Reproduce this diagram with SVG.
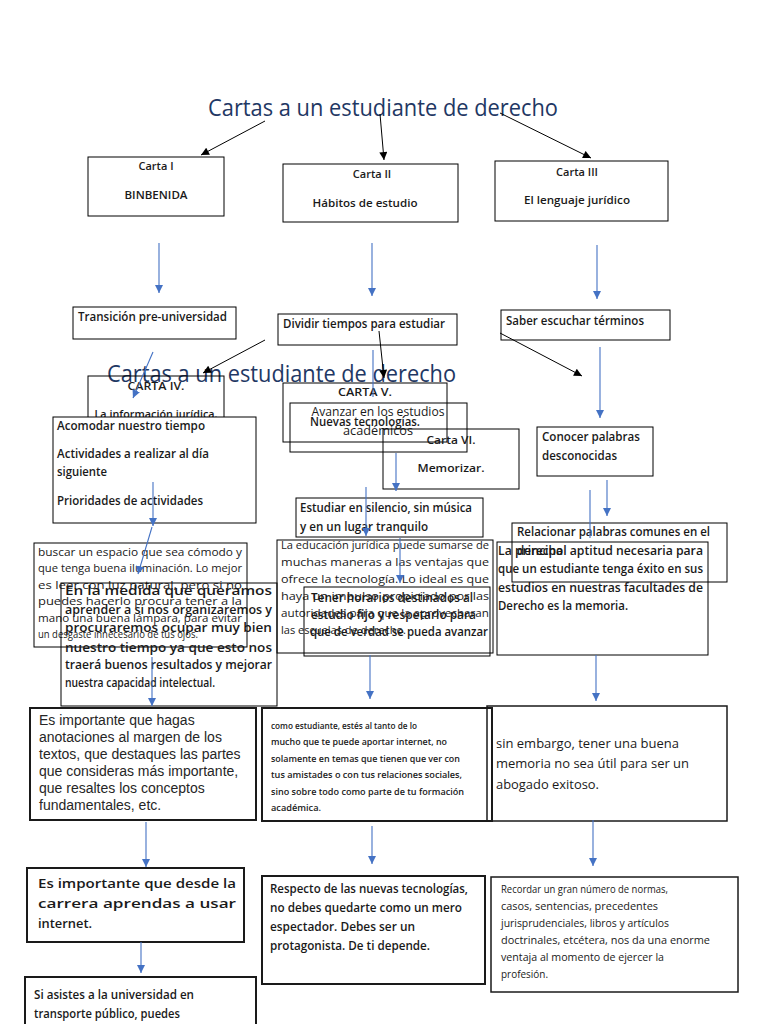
<svg xmlns="http://www.w3.org/2000/svg" width="768" height="1024" viewBox="0 0 768 1024">
<style>
.t{font-family:"Open Sans","Liberation Sans",sans-serif;fill:#1a1a1a}
.b{font-weight:600}
.m{text-anchor:middle}
.ttl{font-family:"Open Sans","Liberation Sans",sans-serif;font-size:23px;fill:#1f3864}
.box{fill:none;stroke:#000;stroke-width:1}
.boxw{fill:#fff;stroke:#000;stroke-width:1}
.box2{fill:none;stroke:#1a1a1a;stroke-width:2}
.box15{fill:none;stroke:#1a1a1a;stroke-width:1.5}
.blue{stroke:#4472c4;stroke-width:1.1;fill:none}
.blk{stroke:#000;stroke-width:1;fill:none}
.ar{font-family:"Liberation Sans",Arial,sans-serif;font-size:14px;fill:#262626}
</style>
<defs>
<marker id="ab" viewBox="0 0 10 10" refX="10" refY="5" markerWidth="9" markerHeight="8" markerUnits="userSpaceOnUse" orient="auto"><path d="M0,0 L10,5 L0,10 z" fill="#000"/></marker>
<marker id="au" viewBox="0 0 10 10" refX="10" refY="5" markerWidth="8" markerHeight="8" markerUnits="userSpaceOnUse" orient="auto"><path d="M0,0 L10,5 L0,10 z" fill="#4472c4"/></marker>
</defs>

<g id="title1"><text class="ttl" x="208" y="116" textLength="350" lengthAdjust="spacingAndGlyphs">Cartas a un estudiante de derecho</text></g>

<g id="carta1"><rect class="box" x="88" y="157" width="136" height="59"/>
<text class="t b m" x="156" y="170" font-size="11">Carta I</text>
<text class="t b m" x="156" y="199" font-size="11" textLength="63" lengthAdjust="spacingAndGlyphs">BINBENIDA</text></g>

<g id="carta2"><rect class="box" x="283" y="164" width="175" height="58"/>
<text class="t b m" x="372" y="178" font-size="11">Carta II</text>
<text class="t b m" x="365" y="207" font-size="11.5" textLength="105" lengthAdjust="spacingAndGlyphs">Hábitos de estudio</text></g>

<g id="carta3"><rect class="box" x="495" y="161" width="173" height="60"/>
<text class="t b m" x="577" y="176" font-size="11">Carta III</text>
<text class="t b m" x="577" y="204" font-size="11.5" textLength="106" lengthAdjust="spacingAndGlyphs">El lenguaje jurídico</text></g>

<g id="transicion"><rect class="box" x="73" y="307" width="163" height="32"/>
<text class="t b" x="78" y="321" font-size="12" textLength="149" lengthAdjust="spacingAndGlyphs">Transición pre-universidad</text></g>

<g id="dividir"><rect class="box" x="278" y="314" width="179" height="31"/>
<text class="t b" x="283" y="328" font-size="12" textLength="162" lengthAdjust="spacingAndGlyphs">Dividir tiempos para estudiar</text></g>

<g id="saber"><rect class="box" x="501" y="310" width="169" height="30"/>
<text class="t b" x="506" y="325" font-size="12" textLength="138" lengthAdjust="spacingAndGlyphs">Saber escuchar términos</text></g>

<g id="title2"><text class="ttl" x="107" y="382" textLength="349" lengthAdjust="spacingAndGlyphs">Cartas a un estudiante de derecho</text></g>

<g id="carta4"><rect class="box" x="88" y="376" width="136" height="59"/>
<text class="t b m" x="156" y="390" font-size="11.5" textLength="57" lengthAdjust="spacingAndGlyphs">CARTA IV.</text>
<text class="t b m" x="156" y="418" font-size="11.5" textLength="123" lengthAdjust="spacingAndGlyphs">La información jurídica.</text></g>

<g id="acomodar"><rect class="boxw" x="53" y="417" width="203" height="106"/>
<text class="t b" x="57" y="430" font-size="12.5" textLength="148" lengthAdjust="spacingAndGlyphs">Acomodar nuestro tiempo</text>
<text class="t b" x="57" y="458" font-size="12.5" textLength="152" lengthAdjust="spacingAndGlyphs">Actividades a realizar al día</text>
<text class="t b" x="57" y="476" font-size="12.5" textLength="50" lengthAdjust="spacingAndGlyphs">siguiente</text>
<text class="t b" x="57" y="505" font-size="12.5" textLength="146" lengthAdjust="spacingAndGlyphs">Prioridades de actividades</text></g>

<g id="carta5"><rect class="box" x="283" y="383" width="164" height="59"/>
<text class="t b m" x="365" y="396" font-size="11.5" textLength="54" lengthAdjust="spacingAndGlyphs">CARTA V.</text></g>

<g id="avanzar"><rect class="box" x="290" y="403" width="177" height="49"/>
<text class="t m" x="378" y="416" font-size="12" textLength="133" lengthAdjust="spacingAndGlyphs">Avanzar en los estudios</text>
<text class="t m" x="378" y="435" font-size="12" textLength="70" lengthAdjust="spacingAndGlyphs">académicos</text>
<text class="t b m" x="365" y="426" font-size="12" textLength="110" lengthAdjust="spacingAndGlyphs">Nuevas tecnologías.</text></g>

<g id="carta6"><rect class="box" x="383" y="429" width="136" height="60"/>
<text class="t b m" x="451" y="444" font-size="11.5" textLength="49" lengthAdjust="spacingAndGlyphs">Carta VI.</text>
<text class="t b m" x="451" y="472" font-size="11.5" textLength="67" lengthAdjust="spacingAndGlyphs">Memorizar.</text></g>

<g id="conocer"><rect class="box" x="537" y="427" width="116" height="49"/>
<text class="t b" x="542" y="441" font-size="12" textLength="98" lengthAdjust="spacingAndGlyphs">Conocer palabras</text>
<text class="t b" x="542" y="460" font-size="12" textLength="75" lengthAdjust="spacingAndGlyphs">desconocidas</text></g>

<g id="estudiar"><rect class="box" x="296" y="498" width="187" height="39"/>
<text class="t b" x="300" y="512" font-size="12" textLength="172" lengthAdjust="spacingAndGlyphs">Estudiar en silencio, sin música</text>
<text class="t b" x="300" y="531" font-size="12" textLength="128" lengthAdjust="spacingAndGlyphs">y en un lugar tranquilo</text></g>

<g id="relacionar"><rect class="box" x="512" y="523" width="215" height="59"/>
<text class="t b" x="517" y="536" font-size="12" textLength="193" lengthAdjust="spacingAndGlyphs">Relacionar palabras comunes en el</text>
<text class="t b" x="517" y="555" font-size="12" textLength="46" lengthAdjust="spacingAndGlyphs">derecho</text></g>

<g id="educacion"><rect class="box" x="277" y="540" width="216" height="113"/>
<text class="t" x="281" y="549" font-size="10.5" textLength="208" lengthAdjust="spacingAndGlyphs">La educación jurídica puede sumarse de</text>
<text class="t" x="281" y="566" font-size="10.5" textLength="208" lengthAdjust="spacingAndGlyphs">muchas maneras a las ventajas que</text>
<text class="t" x="281" y="583" font-size="10.5" textLength="208" lengthAdjust="spacingAndGlyphs">ofrece la tecnología. Lo ideal es que</text>
<text class="t" x="281" y="600" font-size="10.5" textLength="208" lengthAdjust="spacingAndGlyphs">haya un impulso propiciado por las</text>
<text class="t" x="281" y="617" font-size="10.5" textLength="208" lengthAdjust="spacingAndGlyphs">autoridades para que la aprovecharan</text>
<text class="t" x="281" y="634" font-size="10.5" textLength="125" lengthAdjust="spacingAndGlyphs">las escuelas de derecho.</text></g>

<g id="buscar"><rect class="box" x="34" y="543" width="213" height="104"/>
<text class="t" x="38" y="556" font-size="10" textLength="204" lengthAdjust="spacingAndGlyphs">buscar un espacio que sea cómodo y</text>
<text class="t" x="38" y="572" font-size="10" textLength="204" lengthAdjust="spacingAndGlyphs">que tenga buena iluminación. Lo mejor</text>
<text class="t" x="38" y="589" font-size="10" textLength="204" lengthAdjust="spacingAndGlyphs">es leer con luz natural, pero si no</text>
<text class="t" x="38" y="605" font-size="10" textLength="204" lengthAdjust="spacingAndGlyphs">puedes hacerlo procura tener a la</text>
<text class="t" x="38" y="622" font-size="10" textLength="204" lengthAdjust="spacingAndGlyphs">mano una buena lámpara, para evitar</text>
<text class="t" x="38" y="638" font-size="10" textLength="160" lengthAdjust="spacingAndGlyphs">un desgaste innecesario de tus ojos.</text></g>

<g id="principal"><rect class="box" x="497" y="542" width="211" height="113"/>
<text class="t b" x="498" y="555" font-size="12.5" textLength="205" lengthAdjust="spacingAndGlyphs">La principal aptitud necesaria para</text>
<text class="t b" x="498" y="573" font-size="12.5" textLength="205" lengthAdjust="spacingAndGlyphs">que un estudiante tenga éxito en sus</text>
<text class="t b" x="498" y="592" font-size="12.5" textLength="205" lengthAdjust="spacingAndGlyphs">estudios en nuestras facultades de</text>
<text class="t b" x="498" y="610" font-size="12.5" textLength="130" lengthAdjust="spacingAndGlyphs">Derecho es la memoria.</text></g>

<g id="tener"><rect class="box" x="304" y="587" width="186" height="69"/>
<text class="t b" x="311" y="602" font-size="12.5" textLength="162" lengthAdjust="spacingAndGlyphs">Tener horarios destinados al</text>
<text class="t b" x="311" y="619" font-size="12.5" textLength="165" lengthAdjust="spacingAndGlyphs">estudio fijo y respetarlo para</text>
<text class="t b" x="310" y="636" font-size="12.5" textLength="178" lengthAdjust="spacingAndGlyphs">que de verdad se pueda avanzar</text></g>

<g id="medida"><rect class="box" x="61" y="583" width="216" height="123"/>
<text class="t b" x="65" y="595" font-size="12.5" textLength="207" lengthAdjust="spacingAndGlyphs">En la medida que queramos</text>
<text class="t b" x="65" y="614" font-size="12.5" textLength="207" lengthAdjust="spacingAndGlyphs">aprender a si nos organizaremos y</text>
<text class="t b" x="65" y="632" font-size="12.5" textLength="207" lengthAdjust="spacingAndGlyphs">procuraremos ocupar muy bien</text>
<text class="t b" x="65" y="652" font-size="12.5" textLength="207" lengthAdjust="spacingAndGlyphs">nuestro tiempo ya que esto nos</text>
<text class="t b" x="65" y="669" font-size="12.5" textLength="207" lengthAdjust="spacingAndGlyphs">traerá buenos resultados y mejorar</text>
<text class="t b" x="65" y="687" font-size="12.5" textLength="150" lengthAdjust="spacingAndGlyphs">nuestra capacidad intelectual.</text></g>

<g id="anotaciones"><rect class="box2" x="30" y="708" width="226" height="112"/>
<text class="ar" x="39" y="725">Es importante que hagas</text>
<text class="ar" x="39" y="742">anotaciones al margen de los</text>
<text class="ar" x="39" y="759">textos, que destaques las partes</text>
<text class="ar" x="39" y="776">que consideras más importante,</text>
<text class="ar" x="39" y="793">que resaltes los conceptos</text>
<text class="ar" x="39" y="810">fundamentales, etc.</text></g>

<g id="comoestudiante"><rect class="box2" x="262" y="708" width="230" height="113"/>
<text class="t b" x="271" y="729" font-size="9" textLength="146" lengthAdjust="spacingAndGlyphs">como estudiante, estés al tanto de lo</text>
<text class="t b" x="271" y="745" font-size="9" textLength="176" lengthAdjust="spacingAndGlyphs">mucho que te puede aportar internet, no</text>
<text class="t b" x="271" y="762" font-size="9" textLength="189" lengthAdjust="spacingAndGlyphs">solamente en temas que tienen que ver con</text>
<text class="t b" x="271" y="778" font-size="9" textLength="191" lengthAdjust="spacingAndGlyphs">tus amistades o con tus relaciones sociales,</text>
<text class="t b" x="271" y="795" font-size="9" textLength="193" lengthAdjust="spacingAndGlyphs">sino sobre todo como parte de tu formación</text>
<text class="t b" x="271" y="811" font-size="9" textLength="50" lengthAdjust="spacingAndGlyphs">académica.</text></g>

<g id="sinembargo"><rect class="box15" x="487" y="706" width="240" height="115"/>
<text class="t" x="496" y="748" font-size="13" textLength="183" lengthAdjust="spacingAndGlyphs">sin embargo, tener una buena</text>
<text class="t" x="496" y="768" font-size="13" textLength="193" lengthAdjust="spacingAndGlyphs">memoria no sea útil para ser un</text>
<text class="t" x="496" y="789" font-size="13" textLength="103" lengthAdjust="spacingAndGlyphs">abogado exitoso.</text></g>

<g id="internet"><rect class="box2" x="27" y="868" width="217" height="74"/>
<text class="t b" x="38" y="888" font-size="13" textLength="198" lengthAdjust="spacingAndGlyphs">Es importante que desde la</text>
<text class="t b" x="38" y="908" font-size="13" textLength="198" lengthAdjust="spacingAndGlyphs">carrera aprendas a usar</text>
<text class="t b" x="38" y="928" font-size="13" textLength="54" lengthAdjust="spacingAndGlyphs">internet.</text></g>

<g id="respecto"><rect class="box2" x="262" y="876" width="223" height="108"/>
<text class="t b" x="270" y="893" font-size="12" textLength="198" lengthAdjust="spacingAndGlyphs">Respecto de las nuevas tecnologías,</text>
<text class="t b" x="270" y="912" font-size="12" textLength="192" lengthAdjust="spacingAndGlyphs">no debes quedarte como un mero</text>
<text class="t b" x="270" y="931" font-size="12" textLength="145" lengthAdjust="spacingAndGlyphs">espectador. Debes ser un</text>
<text class="t b" x="270" y="950" font-size="12" textLength="160" lengthAdjust="spacingAndGlyphs">protagonista. De ti depende.</text></g>

<g id="recordar"><rect class="box15" x="491" y="877" width="247" height="115"/>
<text class="t" x="501" y="893" font-size="10" textLength="167" lengthAdjust="spacingAndGlyphs">Recordar un gran número de normas,</text>
<text class="t" x="501" y="910" font-size="10" textLength="157" lengthAdjust="spacingAndGlyphs">casos, sentencias, precedentes</text>
<text class="t" x="501" y="927" font-size="10" textLength="168" lengthAdjust="spacingAndGlyphs">jurisprudenciales, libros y artículos</text>
<text class="t" x="501" y="944" font-size="10" textLength="209" lengthAdjust="spacingAndGlyphs">doctrinales, etcétera, nos da una enorme</text>
<text class="t" x="501" y="961" font-size="10" textLength="163" lengthAdjust="spacingAndGlyphs">ventaja al momento de ejercer la</text>
<text class="t" x="501" y="978" font-size="10" textLength="47" lengthAdjust="spacingAndGlyphs">profesión.</text></g>

<g id="transporte"><rect class="box2" x="25" y="977" width="231" height="60"/>
<text class="t b" x="34" y="999" font-size="12.5" textLength="160" lengthAdjust="spacingAndGlyphs">Si asistes a la universidad en</text>
<text class="t b" x="34" y="1018" font-size="12.5" textLength="146" lengthAdjust="spacingAndGlyphs">transporte público, puedes</text></g>

<g id="connectors">
<line class="blk" x1="265" y1="121" x2="201" y2="155" marker-end="url(#ab)"/>
<line class="blk" x1="380" y1="114" x2="384" y2="160" marker-end="url(#ab)"/>
<line class="blk" x1="500" y1="113" x2="591" y2="158" marker-end="url(#ab)"/>
<line class="blk" x1="265" y1="340" x2="203" y2="373" marker-end="url(#ab)"/>
<line class="blk" x1="379" y1="331" x2="384" y2="378" marker-end="url(#ab)"/>
<line class="blk" x1="500" y1="333" x2="582" y2="376" marker-end="url(#ab)"/>
<line class="blue" x1="159" y1="243" x2="159" y2="293" marker-end="url(#au)"/>
<line class="blue" x1="372" y1="243" x2="372" y2="296" marker-end="url(#au)"/>
<line class="blue" x1="597" y1="245" x2="597" y2="299" marker-end="url(#au)"/>
<line class="blue" x1="153" y1="352" x2="133" y2="398" marker-end="url(#au)"/>
<line class="blue" x1="373" y1="350" x2="373" y2="397"/>
<line class="blue" x1="600" y1="347" x2="600" y2="418" marker-end="url(#au)"/>
<line class="blue" x1="153" y1="482" x2="153" y2="526" marker-end="url(#au)"/>
<line class="blue" x1="152" y1="527" x2="138" y2="574" marker-end="url(#au)"/>
<line class="blue" x1="396" y1="453" x2="396" y2="491" marker-end="url(#au)"/>
<line class="blue" x1="366" y1="487" x2="366" y2="536" marker-end="url(#au)"/>
<line class="blue" x1="400" y1="538" x2="400" y2="583" marker-end="url(#au)"/>
<line class="blue" x1="590" y1="490" x2="590" y2="538"/>
<line class="blue" x1="607" y1="480" x2="607" y2="516" marker-end="url(#au)"/>
<line class="blue" x1="152" y1="657" x2="152" y2="706" marker-end="url(#au)"/>
<line class="blue" x1="370" y1="655" x2="370" y2="699" marker-end="url(#au)"/>
<line class="blue" x1="596" y1="655" x2="596" y2="701" marker-end="url(#au)"/>
<line class="blue" x1="146" y1="822" x2="146" y2="867" marker-end="url(#au)"/>
<line class="blue" x1="372" y1="826" x2="372" y2="864" marker-end="url(#au)"/>
<line class="blue" x1="593" y1="820" x2="593" y2="866" marker-end="url(#au)"/>
<line class="blue" x1="141" y1="942" x2="141" y2="973" marker-end="url(#au)"/>
</g>
</svg>
